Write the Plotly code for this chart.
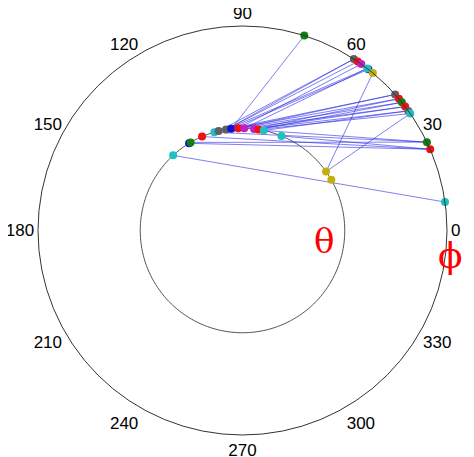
import plotly.graph_objects as go

# inner circle points (theta, r = 0.5)
inner_theta = [132.7, 121.5, 120.5, 113.3, 106.0, 103.5, 99.3, 96.3, 92.4, 89.0, 83.5, 81.0, 78.0, 67.6, 35.2, 29.7]
inner_color = ["#20c0c0", "#1010e0", "#108010", "#f01010", "#20c0c0", "#606060", "#606060", "#1010e0",
               "#f01010", "#c020c0", "#c020c0", "#f01010", "#20c0c0", "#20c0c0", "#c0b010", "#c0b010"]
# outer circle points (phi, r = 1)
outer_phi = [72.4, 57.0, 55.7, 54.5, 52.0, 52.4, 50.4, 41.7, 40.1, 38.8, 37.3, 35.8, 34.9, 25.6, 23.4, 8.0]
outer_color = ["#108010", "#606060", "#f01010", "#c020c0", "#1010e0", "#20c0c0", "#c0b010", "#606060",
               "#f01010", "#108010", "#f01010", "#606060", "#20c0c0", "#108010", "#f01010", "#20c0c0"]
# links: (inner index, outer index)
links = [(7, 0), (5, 1), (6, 2), (8, 3), (7, 4), (9, 5), (6, 5), (14, 6), (5, 7), (7, 8), (8, 9),
         (9, 10), (10, 11), (11, 12), (12, 11), (14, 12), (8, 7), (10, 8), (1, 14), (2, 13),
         (3, 14), (12, 13), (13, 14), (0, 15), (4, 13), (10, 10), (11, 9), (6, 1)]
tick_vals = list(range(0, 360, 30))

lr, lt = [], []
for i, o in links:
    lr += [0.5, 1, None]
    lt += [inner_theta[i], outer_phi[o], None]

circ = list(range(0, 361, 2))

fig = go.Figure()
fig.add_trace(go.Scatterpolar(r=[0.5] * len(circ), theta=circ, mode="lines",
                              line=dict(color="#555555", width=1)))
fig.add_trace(go.Scatterpolar(r=lr, theta=lt, mode="lines",
                              line=dict(color="rgba(40,40,230,0.75)", width=0.8)))
fig.add_trace(go.Scatterpolar(r=[0.5] * len(inner_theta), theta=inner_theta, mode="markers",
                              marker=dict(color=inner_color, size=8)))
fig.add_trace(go.Scatterpolar(r=[1] * len(outer_phi), theta=outer_phi, mode="markers",
                              marker=dict(color=outer_color, size=8)))

fig.update_layout(
    width=474, height=457, showlegend=False,
    paper_bgcolor="white", plot_bgcolor="white",
    margin=dict(l=27, r=32, t=18, b=30),
    font=dict(family="Liberation Sans, Arial", size=17, color="black"),
    polar=dict(
        bgcolor="white",
        radialaxis=dict(range=[0, 1], visible=False, showgrid=False),
        angularaxis=dict(tickvals=tick_vals, ticktext=[str(v) for v in tick_vals],
                         showgrid=False, ticks="", showline=True, linecolor="#333333",
                         linewidth=1, direction="counterclockwise", rotation=0),
    ),
)
fig.add_annotation(x=0.725, y=0.474, xref="paper", yref="paper", text="θ", showarrow=False,
                   font=dict(family="DejaVu Serif", size=34, color="red"))
fig.add_annotation(x=1.036, y=0.44, xref="paper", yref="paper", text="ϕ", showarrow=False,
                   font=dict(family="DejaVu Serif", size=36, color="red"))
fig.write_html("out.html")
